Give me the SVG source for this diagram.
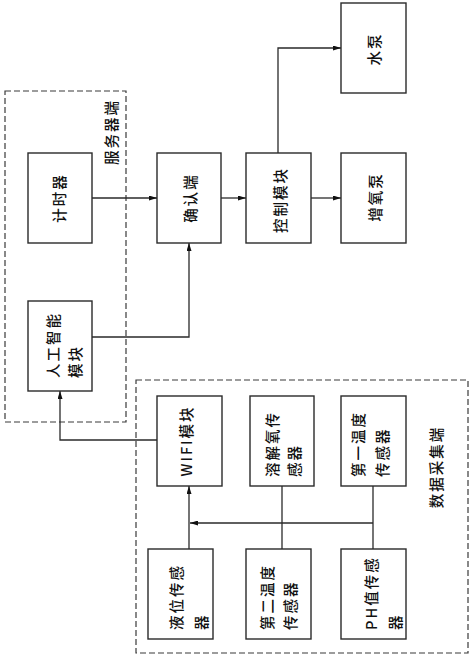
<svg xmlns="http://www.w3.org/2000/svg" width="474" height="658" viewBox="0 0 474 658">
<defs>
<style>
.box{fill:#fff;stroke:#2a2a2a;stroke-width:1.4}
.grp{fill:none;stroke:#3a3a3a;stroke-width:1.2;stroke-dasharray:6 3}
.ln{fill:none;stroke:#2a2a2a;stroke-width:1.3}
.t{font-family:"Noto Sans CJK SC","Noto Sans",sans-serif;font-size:14.5px;font-weight:500;letter-spacing:2px;fill:#111;dominant-baseline:central}
.m{text-anchor:middle}
.s{text-anchor:start}
</style>
<marker id="arr" viewBox="0 0 8 5" refX="8" refY="2.5" markerWidth="8" markerHeight="5" markerUnits="userSpaceOnUse" orient="auto">
<path d="M0,0 L8,2.5 L0,5 z" fill="#111"/>
</marker>
</defs>
<rect width="474" height="658" fill="#fff"/>
<g id="server-group">
<rect class="grp" x="5" y="91" width="121" height="331"/>
<text class="t m" transform="translate(110,132) rotate(-90)">服务器端</text>
</g>
<g id="data-group">
<rect class="grp" x="136" y="380" width="332" height="273"/>
<text class="t m" transform="translate(435,467) rotate(-90)">数据采集端</text>
</g>
<g id="connectors">
<line class="ln" x1="92" y1="198" x2="157" y2="198" marker-end="url(#arr)"/>
<line class="ln" x1="221" y1="198" x2="246" y2="198" marker-end="url(#arr)"/>
<line class="ln" x1="311" y1="198" x2="341" y2="198" marker-end="url(#arr)"/>
<polyline class="ln" points="278,153 278,48 341,48" marker-end="url(#arr)"/>
<polyline class="ln" points="92,337 189,337 189,243" marker-end="url(#arr)"/>
<polyline class="ln" points="157,440 60,440 60,391" marker-end="url(#arr)"/>
<line class="ln" x1="189" y1="549" x2="189" y2="486" marker-end="url(#arr)"/>
<line class="ln" x1="373" y1="523" x2="190" y2="523" marker-end="url(#arr)"/>
<line class="ln" x1="282" y1="486" x2="282" y2="549"/>
<line class="ln" x1="373" y1="486" x2="373" y2="549"/>
</g>
<g id="timer">
<rect class="box" x="28" y="153" width="64" height="90"/>
<text class="t m" transform="translate(58,198) rotate(-90)">计时器</text>
</g>
<g id="ai-module">
<rect class="box" x="28" y="301" width="64" height="90"/>
<text class="t s" transform="translate(52,378) rotate(-90)">人工智能</text>
<text class="t s" transform="translate(74,378) rotate(-90)">模块</text>
</g>
<g id="confirm">
<rect class="box" x="157" y="153" width="64" height="90"/>
<text class="t m" transform="translate(189,198) rotate(-90)">确认端</text>
</g>
<g id="control">
<rect class="box" x="246" y="153" width="65" height="90"/>
<text class="t m" transform="translate(279,200) rotate(-90)">控制模块</text>
</g>
<g id="water-pump">
<rect class="box" x="341" y="3" width="65" height="90"/>
<text class="t m" transform="translate(373,49) rotate(-90)">水泵</text>
</g>
<g id="oxygen-pump">
<rect class="box" x="341" y="153" width="65" height="90"/>
<text class="t m" transform="translate(374,197) rotate(-90)">增氧泵</text>
</g>
<g id="wifi">
<rect class="box" x="157" y="396" width="65" height="90"/>
<text class="t m" transform="translate(185,441) rotate(-90)">WIFI模块</text>
</g>
<g id="do-sensor">
<rect class="box" x="250" y="396" width="64" height="90"/>
<text class="t s" transform="translate(271,477) rotate(-90)">溶解氧传</text>
<text class="t s" transform="translate(293,477) rotate(-90)">感器</text>
</g>
<g id="temp1-sensor">
<rect class="box" x="341" y="396" width="65" height="90"/>
<text class="t s" transform="translate(357,477) rotate(-90)">第一温度</text>
<text class="t s" transform="translate(381,477) rotate(-90)">传感器</text>
</g>
<g id="level-sensor">
<rect class="box" x="148" y="549" width="65" height="90"/>
<text class="t s" transform="translate(175,630) rotate(-90)">液位传感</text>
<text class="t s" transform="translate(200,630) rotate(-90)">器</text>
</g>
<g id="temp2-sensor">
<rect class="box" x="246" y="549" width="65" height="90"/>
<text class="t s" transform="translate(266,630) rotate(-90)">第二温度</text>
<text class="t s" transform="translate(289,630) rotate(-90)">传感器</text>
</g>
<g id="ph-sensor">
<rect class="box" x="341" y="549" width="65" height="90"/>
<text class="t s" transform="translate(370,630) rotate(-90)">PH值传感</text>
<text class="t s" transform="translate(394,630) rotate(-90)">器</text>
</g>
</svg>
